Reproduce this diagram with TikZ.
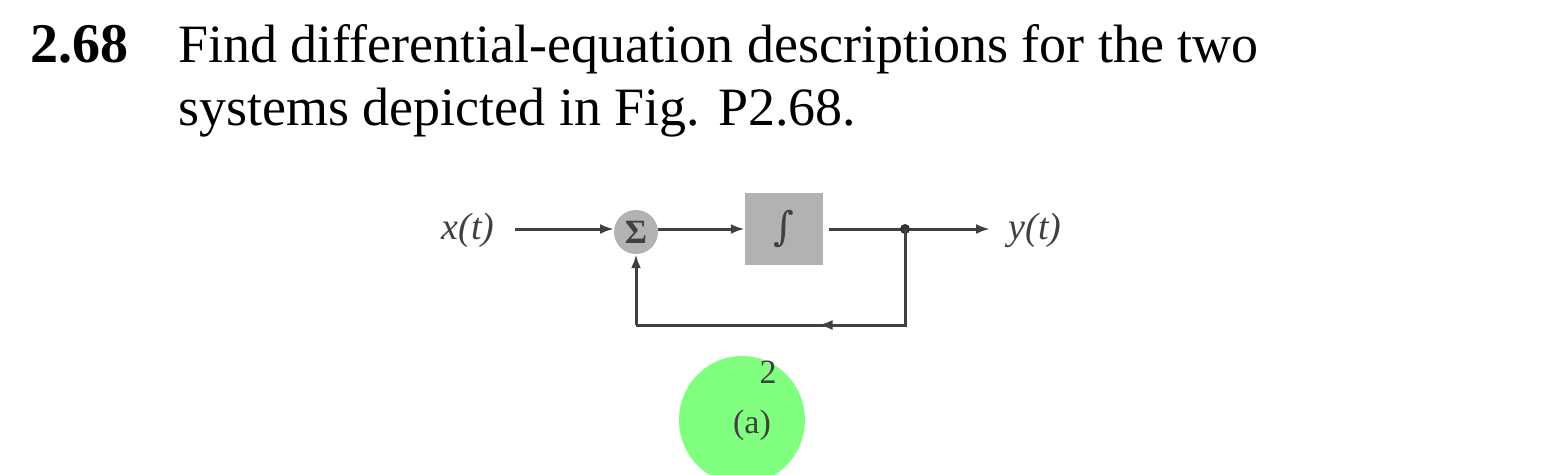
\documentclass[tikz,border=0pt]{standalone}
\usepackage{fontspec}
\setmainfont{Liberation Serif}
\newfontfamily\symfont{DejaVu Serif}
\usetikzlibrary{arrows.meta,decorations.markings}
\begin{document}
\begin{tikzpicture}[x=1pt,y=-1pt,
  ln/.style={draw=black!75,line width=3pt},
  arr/.style={ln,-{Latex[length=14pt,width=10pt]}},
  big/.style={font=\fontsize{54}{58}\selectfont,inner sep=0pt,anchor=base west},
  lab/.style={font=\fontsize{38}{40}\selectfont\itshape,text=black!75,inner sep=0pt}]
\path[use as bounding box,fill=white] (0,0) rectangle (1568,474);
\node[big,font=\fontsize{56}{58}\selectfont\bfseries] (num) at (30,62) {2.68};
\node[big] (l1) at (178,62) {Find differential-equation descriptions for the two};
\node[big] (l2) at (178,125) {systems depicted in Fig. P2.68.};
\node[lab] (x) at (468,230) {x(t)};
\node[lab] (y) at (1035,230) {y(t)};
\node[circle,fill=black!30,minimum size=44pt,inner sep=0pt,font=\fontsize{34}{34}\selectfont\bfseries,text=black!75] (s) at (636,232) {Σ};
\node[fill=black!30,minimum width=78pt,minimum height=72pt,inner sep=0pt,font=\symfont\fontsize{40}{40}\selectfont,text=black!75] (int) at (784,229) {∫};
\coordinate (d) at (905,229);
\coordinate (c1) at (905,325);
\coordinate (c2) at (636,325);
\coordinate (ye) at (990,229);
\coordinate (xs) at (515,229);
\coordinate (se) at (614,229);
\coordinate (ss) at (658,229);
\draw[arr] (xs) -- (se);
\draw[arr] (ss) -- (int.west);
\draw[ln] (int.east) ++(6,0) -- (d);
\draw[arr] (d) -- (ye);
\fill[black!80] (d) circle (5pt);
\draw[ln,decoration={markings,mark=at position 0.5 with {\arrow{Latex[length=14pt,width=10pt]}}},postaction=decorate] (d) -- (c1) -- (c2);
\draw[arr] (c2) -- (s.south);
\fill[green!50] (742,420) ellipse (63 and 64);
\node[font=\fontsize{34}{34}\selectfont,text=black!75] (two) at (768,372) {2};
\node[font=\fontsize{34}{34}\selectfont,text=black!75] (a) at (752,425) {(a)};
\end{tikzpicture}
\end{document}
